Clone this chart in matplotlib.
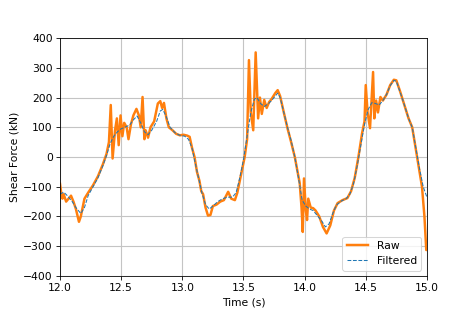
import matplotlib
matplotlib.use("Agg")
import matplotlib.pyplot as plt

plt.rcParams["font.size"] = 10.5

# filtered signal (time s, shear kN)
filt_t = [12.00, 12.03, 12.06, 12.10, 12.13, 12.17, 12.20, 12.23, 12.27, 12.31,
          12.35, 12.38, 12.41, 12.44, 12.47, 12.50, 12.53, 12.57, 12.60, 12.63,
          12.66, 12.69, 12.72, 12.75, 12.79, 12.82, 12.84, 12.87, 12.90, 12.94,
          12.98, 13.02, 13.05, 13.08, 13.10, 13.13, 13.16, 13.19, 13.22, 13.25,
          13.29, 13.33, 13.37, 13.41, 13.44, 13.47, 13.50, 13.53, 13.56, 13.59,
          13.61, 13.64, 13.67, 13.70, 13.73, 13.76, 13.78, 13.80, 13.83, 13.86,
          13.89, 13.92, 13.95, 13.98, 14.01, 14.04, 14.07, 14.10, 14.14, 14.17,
          14.20, 14.23, 14.26, 14.30, 14.34, 14.37, 14.40, 14.43, 14.46, 14.49,
          14.52, 14.55, 14.58, 14.61, 14.64, 14.67, 14.70, 14.73, 14.75, 14.78,
          14.82, 14.85, 14.88, 14.91, 14.94, 14.97, 15.00]
filt_v = [-125, -118, -130, -150, -170, -190, -170, -130, -100, -70,
          -30, 5, 45, 70, 85, 95, 100, 108, 125, 138,
          115, 85, 75, 90, 120, 155, 160, 135, 100, 82,
          73, 70, 60, 30, -10, -65, -120, -160, -175, -165,
          -150, -140, -135, -135, -120, -70, -10, 70, 150, 195,
          200, 180, 170, 178, 190, 205, 215, 200, 150, 100,
          55, 0, -70, -145, -165, -175, -180, -195, -215, -235,
          -225, -190, -162, -148, -140, -125, -90, -30, 40, 110,
          160, 183, 180, 175, 190, 210, 240, 258, 255, 220,
          170, 130, 100, 30, -40, -100, -135]

# raw signal
raw_t = [12.00, 12.01, 12.02, 12.03, 12.05, 12.07, 12.09, 12.11, 12.13, 12.155,
         12.17, 12.20, 12.23, 12.27, 12.31, 12.35, 12.38, 12.40, 12.415, 12.43,
         12.45, 12.465, 12.48, 12.495, 12.51, 12.525, 12.545, 12.56, 12.58, 12.60,
         12.625, 12.645, 12.66, 12.675, 12.69, 12.70, 12.72, 12.74, 12.77, 12.80,
         12.82, 12.835, 12.85, 12.87, 12.89, 12.92, 12.95, 12.98, 13.01, 13.04,
         13.06, 13.08, 13.10, 13.12, 13.14, 13.155, 13.17, 13.19, 13.21, 13.23,
         13.25, 13.28, 13.31, 13.34, 13.375, 13.40, 13.43, 13.45, 13.48, 13.51,
         13.53, 13.545, 13.56, 13.58, 13.60, 13.62, 13.635, 13.65, 13.67, 13.69,
         13.71, 13.73, 13.76, 13.78, 13.80, 13.83, 13.86, 13.89, 13.92, 13.96,
         13.975, 13.985, 13.995, 14.01, 14.02, 14.03, 14.05, 14.07, 14.09, 14.12,
         14.15, 14.18, 14.21, 14.24, 14.27, 14.31, 14.35, 14.38, 14.41, 14.44,
         14.47, 14.49, 14.50, 14.515, 14.535, 14.56, 14.57, 14.585, 14.60, 14.62,
         14.64, 14.67, 14.70, 14.73, 14.75, 14.78, 14.82, 14.85, 14.88, 14.92,
         14.96, 14.98, 14.995, 15.00]
raw_v = [-90, -120, -140, -125, -150, -140, -130, -150, -175, -218,
         -200, -140, -120, -95, -65, -25, 10, 50, 175, -5,
         90, 130, 40, 140, 70, 115, 100, 60, 110, 140,
         162, 140, 100, 202, 60, 90, 65, 100, 120, 180,
         188, 165, 182, 130, 100, 90, 78, 73, 75, 72,
         68, 30, 0, -50, -80, -115, -125, -170, -197, -195,
         -165, -160, -150, -145, -117, -140, -145, -120, -60, 0,
         60, 326, 150, 90, 352, 130, 200, 145, 192, 165,
         185, 195, 215, 225, 205, 150, 97, 50, 0, -88,
         -170, -252, -72, -180, -212, -140, -170, -172, -180, -200,
         -235, -257, -230, -180, -155, -145, -138, -115, -70, 0,
         80, 120, 242, 150, 97, 286, 130, 190, 150, 202,
         190, 210, 242, 260, 258, 222, 170, 130, 100, 0,
         -100, -200, -313, -300]

fig = plt.figure(figsize=(474 / 74, 315 / 74), dpi=74)
ax = fig.add_axes([0.1266, 0.124, 0.774, 0.755])
ax.plot(raw_t, raw_v, color="C1", linewidth=2.4, label="Raw")
ax.plot(filt_t, filt_v, color="C0", linestyle="--", linewidth=1, label="Filtered")
ax.set_xlim(12, 15)
ax.set_ylim(-400, 400)
ax.set_xticks([12.0, 12.5, 13.0, 13.5, 14.0, 14.5, 15.0])
ax.grid(True, color="#c4c4c4", linewidth=1.1)
ax.set_xlabel("Time (s)")
ax.set_ylabel("Shear Force (kN)")
ax.legend(loc="lower right")
fig.savefig("out.png", dpi=74)
